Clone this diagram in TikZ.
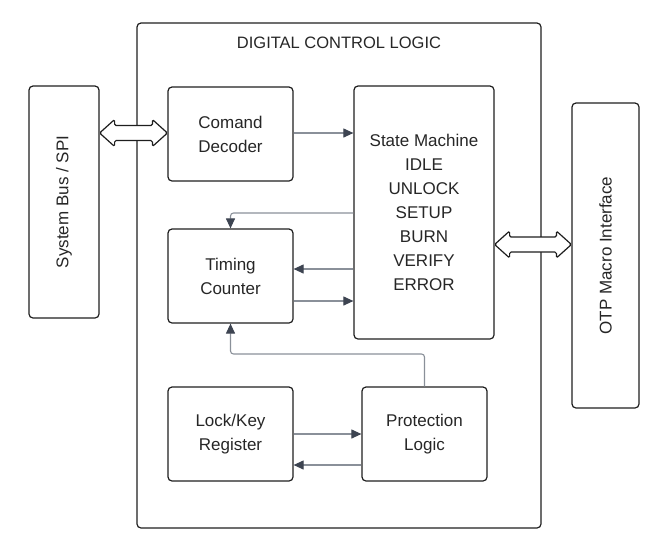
\documentclass[tikz,border=0pt]{standalone}
\usepackage{fontspec}
\setmainfont{Liberation Sans}
\usetikzlibrary{arrows.meta,calc}
\definecolor{linec}{HTML}{8A9099}
\definecolor{tipc}{HTML}{3D4451}
\definecolor{boxc}{HTML}{1E1E1E}
\begin{document}
\begin{tikzpicture}[x=1pt,y=-1pt,
  box/.style={draw=boxc,line width=1.2pt,rounded corners=4pt,inner sep=0pt,align=center,
     font=\fontsize{17}{24}\selectfont,text=black!85},
  vtext/.style={rotate=90,font=\fontsize{17}{20}\selectfont,text=black!85},
  conn/.style={draw=linec,line width=1.1pt,rounded corners=3pt,
     -{Triangle[length=10pt,width=9pt,color=tipc,fill=tipc]}},
  dbl/.style={draw=boxc,line width=1.2pt,fill=white,rounded corners=1.5pt}]
\useasboundingbox (0,0) rectangle (664,550);
\node[box,minimum width=404pt,minimum height=505pt] (outer) at (339,275.5) {};
\node[font=\fontsize{16.5}{20}\selectfont,text=black!85] (title) at (339,43) {DIGITAL CONTROL LOGIC};
\node[box,minimum width=70pt,minimum height=232pt] (bus) at (64,202) {};
\node[vtext] (bust) at (bus.center) {System Bus / SPI};
\node[box,minimum width=67pt,minimum height=305pt] (otp) at (605.5,255.5) {};
\node[vtext] (otpt) at (otp.center) {OTP Macro Interface};
\node[box,minimum width=125pt,minimum height=94pt] (dec) at (230.5,134) {Comand\\Decoder};
\node[box,minimum width=140pt,minimum height=253pt] (sm) at (424,212.5) {State Machine\\IDLE\\UNLOCK\\SETUP\\BURN\\VERIFY\\ERROR};
\node[box,minimum width=125pt,minimum height=94pt] (tim) at (230.5,276) {Timing\\Counter};
\node[box,minimum width=125pt,minimum height=94pt] (lock) at (230.5,434) {Lock/Key\\Register};
\node[box,minimum width=125pt,minimum height=94pt] (prot) at (424.5,434) {Protection\\Logic};
% double arrows
\draw[dbl] let \p1=(bus.east), \p2=(dec.west) in
  (\x1,133) -- (\x1+15,119.5) -- (\x1+15,125.5) -- (\x2-15,125.5) -- (\x2-15,119.5) -- (\x2,133)
  -- (\x2-15,146.5) -- (\x2-15,140.5) -- (\x1+15,140.5) -- (\x1+15,146.5) -- cycle;
\draw[dbl] let \p1=(sm.east), \p2=(otp.west) in
  (\x1,244.5) -- (\x1+15,231) -- (\x1+15,237) -- (\x2-15,237) -- (\x2-15,231) -- (\x2,244.5)
  -- (\x2-15,258) -- (\x2-15,252) -- (\x1+15,252) -- (\x1+15,258) -- cycle;
% connectors
\draw[conn] (dec.east |- 0,133) -- (sm.west |- 0,133);
\draw[conn] (sm.west |- 0,213) -| (tim.north);
\draw[conn] (sm.west |- 0,269) -- (tim.east |- 0,269);
\draw[conn] (tim.east |- 0,301) -- (sm.west |- 0,301);
\draw[conn] (prot.north) -- (prot.north |- 0,354) -| (tim.south);
\draw[conn] (lock.east |- 0,434) -- (prot.west |- 0,434);
\draw[conn] (prot.west |- 0,465) -- (lock.east |- 0,465);
\end{tikzpicture}
\end{document}
